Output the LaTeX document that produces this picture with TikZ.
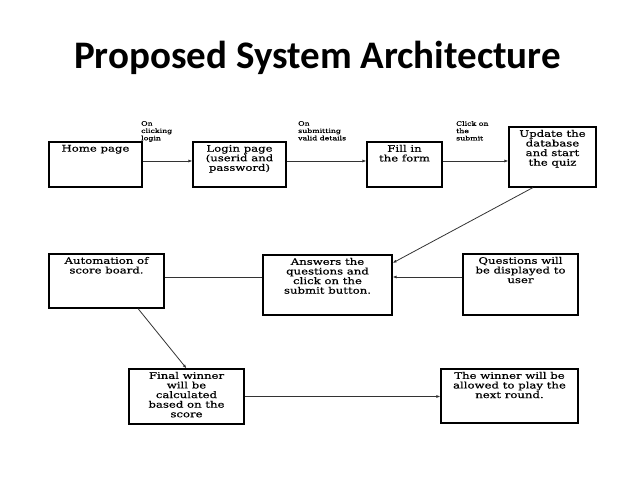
\documentclass[tikz,border=0pt]{standalone}
\usepackage{fontspec}
\usetikzlibrary{arrows.meta}
\newfontfamily\boxfont[FakeStretch=1.3,FakeBold=0.6]{DejaVu Serif}
\newfontfamily\titlefont{Carlito}
\tikzset{>={Latex[length=4pt,width=3pt]}}
\tikzset{
  flowbox/.style={draw, line width=1.1pt, inner sep=0pt},
  steplabel/.style={anchor=north west, inner sep=0pt, align=left,
    font=\boxfont\fontsize{6}{7.3}\selectfont},
  link/.style={draw=black!80, line width=0.8pt}
}
\newcommand{\topbox}[3]{\parbox[c][#2][t]{#1}{\centering\boxfont\fontsize{9}{9.6}\selectfont\vspace*{3pt}#3\par}}

\begin{document}
\begin{tikzpicture}[x=1pt,y=-1pt]
            \useasboundingbox (0,0) rectangle (638,478);
            \node[anchor=base, font=\titlefont\bfseries\fontsize{39}{42}\selectfont] (title) at (317.5,69) {Proposed System Architecture};
            % first row
            \node[flowbox] (home) at (95.5,164.5) {\topbox{93pt}{45pt}{Home page}};
            \node[flowbox] (login) at (239.5,164.5) {\topbox{93pt}{45pt}{Login page\\(userid and\\password)}};
            \node[flowbox] (fill) at (404.5,164.5) {\topbox{75pt}{45pt}{Fill in\\the form}};
            \node[flowbox] (update) at (552.5,157) {\topbox{87pt}{60pt}{Update the\\database\\and start\\the quiz}};
            \node[steplabel] (lclick) at (141,121) {On\\clicking\\login};
            \node[steplabel] (lsubmit) at (298,121) {On\\submitting\\valid details};
            \node[steplabel] (lclickon) at (456,121) {Click on\\the\\submit};
            % second row
            \node[flowbox] (auto) at (106.5,281) {\topbox{115pt}{54pt}{Automation of\\score board.}};
            \node[flowbox] (answers) at (327.5,285) {\topbox{129pt}{60pt}{Answers the\\questions and\\click on the\\submit button.}};
            \node[flowbox] (questions) at (520.5,284.5) {\topbox{115pt}{61pt}{Questions will\\be displayed to\\user}};
            % third row
            \node[flowbox] (final) at (186.5,396.5) {\topbox{115pt}{55pt}{Final winner\\will be\\calculated\\based on the\\score}};
            \node[flowbox] (winner) at (509.5,396) {\topbox{137pt}{54pt}{The winner will be\\allowed to play the\\next round.}};
            % connectors
            \draw[link, ->] ([yshift=3.5pt]home.east) -- ([yshift=3.5pt]login.west);
            \draw[link, ->] ([yshift=3.5pt]login.east) -- ([yshift=3.5pt]fill.west);
            \draw[link, ->] ([yshift=3.5pt]fill.east) -- ([yshift=3.5pt]fill.east -| update.west);
            \draw[link, ->] ([xshift=-19.5pt]update.south) -- ([yshift=22pt]answers.east);
            \draw[link, ->] ([yshift=7.5pt]questions.west) -- ([yshift=7.5pt]questions.west -| answers.east);
            \draw[link] ([yshift=4pt]auto.east) -- ([yshift=4pt]auto.east -| answers.west);
            \draw[link, ->] ([xshift=31.5pt]auto.south) -- (final.north);
            \draw[link, ->] (final.east) -- (final.east -| winner.west);
        \end{tikzpicture}
\end{document}
